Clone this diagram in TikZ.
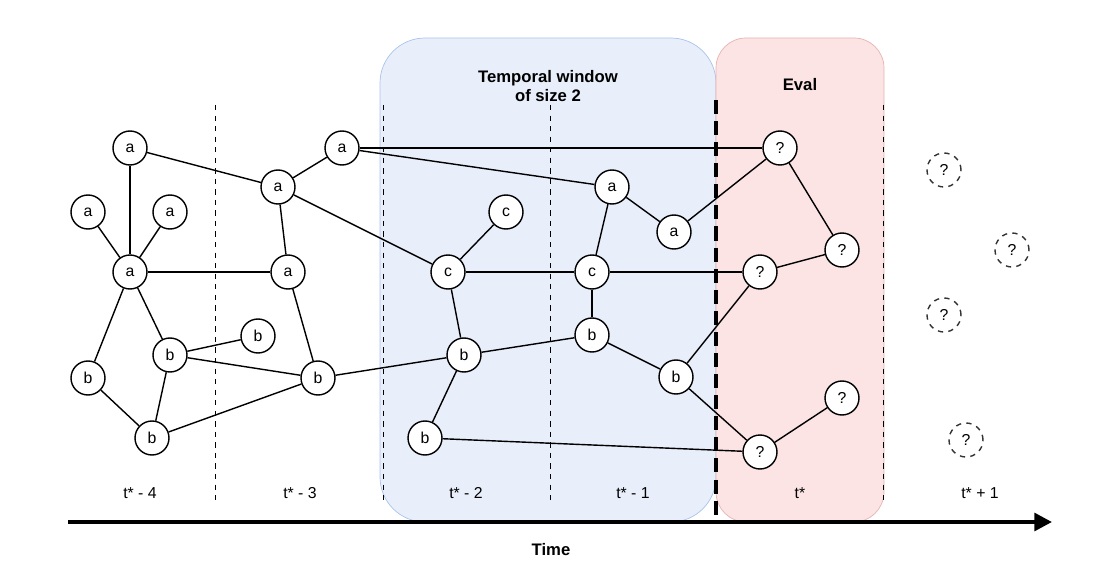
\documentclass[tikz,border=0pt]{standalone}
\usepackage{fontspec}
\setmainfont{Liberation Sans}
\usetikzlibrary{arrows.meta}
\definecolor{bluef}{HTML}{E9EFFA}
\definecolor{blued}{HTML}{A9C4EB}
\definecolor{redf}{HTML}{FBE4E3}
\definecolor{redd}{HTML}{E7B3B0}
\begin{document}
\begin{tikzpicture}[x=0.02cm,y=-0.02cm,
  n/.style={circle,draw,fill=white,line width=0.8pt,minimum size=0.68cm,inner sep=0pt,font=\fontsize{9}{10}\selectfont},
  q/.style={n,dashed,draw=black!80},
  vd/.style={dashed,line width=0.5pt},
  e/.style={line width=0.8pt},
  lab/.style={font=\fontsize{9}{10}\selectfont},
  ttl/.style={font=\bfseries\fontsize{9.5}{11}\selectfont,align=center}]
\useasboundingbox (0,0) rectangle (1117,571);
\draw[fill=bluef,draw=blued,rounded corners=0.9cm] (380,38) rectangle (716,522);
\draw[fill=redf,draw=redd,rounded corners=0.6cm] (716,38) rectangle (884,522);
\foreach \x in {215,383,550,883} \draw[vd] (\x,105) -- (\x,505);
\draw[dashed,line width=2.2pt,dash pattern=on 8pt off 4pt] (716,100) -- (716,520);
\node[ttl] (tw) at (548,86) {Temporal window\\of size 2};
\node[ttl] (ev) at (800,85) {Eval};
\node[n] (a1) at (130,148) {a};
\node[n] (a2) at (88,212) {a};
\node[n] (a3) at (170,212) {a};
\node[n] (a4) at (130,272) {a};
\node[n] (b1) at (170,355) {b};
\node[n] (b2) at (258,336) {b};
\node[n] (b3) at (88,378) {b};
\node[n] (b4) at (152,438) {b};
\node[n] (a5) at (342,148) {a};
\node[n] (a6) at (278,187) {a};
\node[n] (a7) at (288,272) {a};
\node[n] (b5) at (318,378) {b};
\node[n] (c1) at (506,212) {c};
\node[n] (c2) at (448,272) {c};
\node[n] (b6) at (464,355) {b};
\node[n] (b7) at (425,438) {b};
\node[n] (a8) at (612,187) {a};
\node[n] (a9) at (674,232) {a};
\node[n] (c3) at (592,272) {c};
\node[n] (b8) at (592,335) {b};
\node[n] (b9) at (676,377) {b};
\node[n] (q1) at (780,148) {?};
\node[n] (q2) at (842,250) {?};
\node[n] (q3) at (760,272) {?};
\node[n] (q4) at (842,398) {?};
\node[n] (q5) at (760,452) {?};
\node[q] (d1) at (944,170) {?};
\node[q] (d2) at (1012,250) {?};
\node[q] (d3) at (944,315) {?};
\node[q] (d4) at (966,440) {?};
\begin{scope}[on background layer/.style={}]
\foreach \u/\v in {a1/a4,a2/a4,a3/a4,a1/a6,a4/a7,a4/b1,a4/b3,b3/b4,b1/b4,b1/b2,b1/b5,b4/b5,a6/a7,a6/a5,a6/c2,a7/b5,b5/b6,c2/c1,c2/c3,c2/b6,b6/b7,b6/b8,a5/q1,a5/a8,a8/a9,a8/c3,c3/b8,b8/b9,a9/q1,q1/q2,c3/q3,q3/q2,b9/q3,b9/q5,q5/q4,b7/q5}
  \draw[e] (\u) -- (\v);
\end{scope}
\node[lab] (t4) at (140,493) {t* - 4};
\node[lab] (t3) at (300,493) {t* - 3};
\node[lab] (t2) at (466,493) {t* - 2};
\node[lab] (t1) at (633,493) {t* - 1};
\node[lab] (t0) at (800,493) {t*};
\node[lab] (tp) at (980,493) {t* + 1};
\coordinate (s) at (68,522);
\coordinate (t) at (1052,522);
\draw[line width=2.2pt,-{Triangle[length=10pt,width=10pt]}] (s) -- (t);
\node[ttl] (time) at (551,550) {Time};
\end{tikzpicture}
\end{document}
